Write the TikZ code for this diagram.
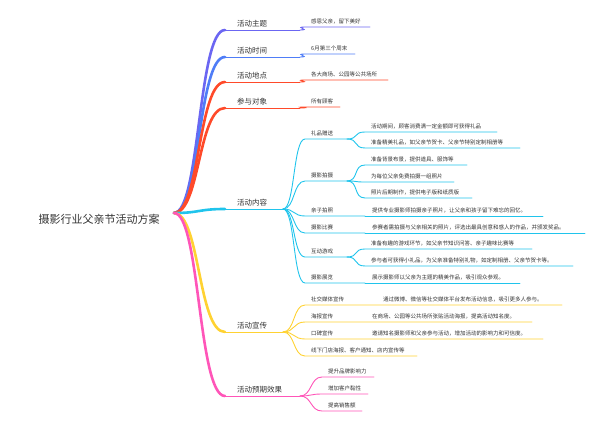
\documentclass[tikz,border=0pt]{standalone}
\usepackage{fontspec}
\setmainfont{Noto Sans CJK SC}
\usetikzlibrary{calc}
\begin{document}
\begin{tikzpicture}[x=1pt,y=-1pt,
  lone/.style={font=\fontsize{7.5}{8}\selectfont,text=black!80,inner sep=0pt,anchor=base west},
  ltwo/.style={font=\fontsize{5.5}{6}\selectfont,text=black!80,inner sep=0pt,anchor=base west},
  thick1/.style={line width=2.6pt,line cap=round},
  thin1/.style={line width=0.9pt,line cap=round}]
\useasboundingbox (0,0) rectangle (600,427);
\definecolor{cA}{HTML}{6B66F2}\definecolor{cB}{HTML}{4F7DF7}
\definecolor{cC}{HTML}{FF4A2A}\definecolor{cD}{HTML}{FF4A2A}
\definecolor{cE}{HTML}{20C4EC}\definecolor{cF}{HTML}{FFD232}
\definecolor{cG}{HTML}{FF55B8}
\node[font=\fontsize{11}{12}\selectfont,text=black!80,inner sep=0pt] (root) at (99,219) {摄影行业父亲节活动方案};
\coordinate (R) at (174,213);
% level1: #1 name, #2 color, #3 y line, #4 x end, #5 text
\newcommand\Lone[5]{%
  \coordinate (#1s) at (225,#3); \coordinate (#1e) at (#4,#3);
  \draw[#2,thick1] (R) .. controls (200,213) and (198,#3) .. (#1s);
  \draw[#2,thin1] (#1s) -- (#1e);
  \node[lone] (#1) at (237,#3-3) {#5};}
% leaf from parent line end: #1 name, #2 color, #3 from coord, #4 x start, #5 y, #6 x end, #7 text
\newcommand\Leaf[7]{%
  \coordinate (#1s) at (#4,#5); \coordinate (#1e) at (#6,#5);
  \draw[#2,thin1] (#3) .. controls ($(#3)+(12,0)$) and ($(#1s)+(-12,0)$) .. (#1s) -- (#1e);
  \node[ltwo] (#1) at (#4+6,#5-3) {#7};}
\Lone{a}{cA}{30}{300}{活动主题}
\Leaf{a1}{cA}{ae}{305}{27}{370}{感恩父亲，留下美好}
\Lone{b}{cB}{57}{300}{活动时间}
\Leaf{b1}{cB}{be}{305}{54}{355}{6月第三个周末}
\Lone{c}{cC}{82}{300}{活动地点}
\Leaf{c1}{cC}{ce}{305}{80}{388}{各大商场、公园等公共场所}
\Lone{d}{cD}{108}{300}{参与对象}
\Leaf{d1}{cD}{de}{305}{107}{340}{所有顾客}
\Lone{e}{cE}{209}{283}{活动内容}
\Lone{f}{cF}{332}{283}{活动宣传}
\Lone{g}{cG}{396}{300}{活动预期效果}
% 内容
\Leaf{e1}{cE}{ee}{305}{139}{347}{礼品赠送}
\Leaf{e11}{cE}{e1e}{365}{132}{497}{活动期间，顾客消费满一定金额即可获得礼品}
\Leaf{e12}{cE}{e1e}{365}{148}{520}{准备精美礼品，如父亲节贺卡、父亲节特别定制相册等}
\Leaf{e2}{cE}{ee}{305}{181}{347}{摄影拍摄}
\Leaf{e21}{cE}{e2e}{365}{165}{467}{准备背景布景，提供道具、服饰等}
\Leaf{e22}{cE}{e2e}{365}{182}{454}{为每位父亲免费拍摄一组照片}
\Leaf{e23}{cE}{e2e}{365}{198}{472}{照片后期制作，提供电子版和纸质版}
\Leaf{e3}{cE}{ee}{305}{216}{365}{亲子拍照}
\draw[cE,thin1] (e3e) -- (543,216); \node[ltwo] (e31) at (372,213) {提供专业摄影师拍摄亲子照片，让父亲和孩子留下难忘的回忆。};
\Leaf{e4}{cE}{ee}{305}{233}{365}{摄影比赛}
\draw[cE,thin1] (e4e) -- (585,233); \node[ltwo] (e41) at (372,230) {参赛者需拍摄与父亲相关的照片，评选出最具创意和感人的作品，并颁发奖品。};
\Leaf{e5}{cE}{ee}{305}{257}{347}{互动游戏}
\Leaf{e51}{cE}{e5e}{365}{249}{532}{准备有趣的游戏环节，如父亲节知识问答、亲子趣味比赛等}
\Leaf{e52}{cE}{e5e}{365}{266}{573}{参与者可获得小礼品，为父亲准备特别礼物，如定制相册、父亲节贺卡等。}
\Leaf{e6}{cE}{ee}{305}{283}{365}{摄影展览}
\draw[cE,thin1] (e6e) -- (520,283); \node[ltwo] (e61) at (372,280) {展示摄影师以父亲为主题的精美作品，吸引观众参观。};
% 宣传
\Leaf{f1}{cF}{fe}{305}{305}{562}{社交媒体宣传}
\node[ltwo] (f11) at (383,302) {通过微博、微信等社交媒体平台发布活动信息，吸引更多人参与。};
\Leaf{f2}{cF}{fe}{305}{322}{532}{海报宣传}
\node[ltwo] (f21) at (372,319) {在商场、公园等公共场所张贴活动海报，提高活动知名度。};
\Leaf{f3}{cF}{fe}{305}{339}{543}{口碑宣传}
\node[ltwo] (f31) at (372,336) {邀请知名摄影师和父亲参与活动，增加活动的影响力和可信度。};
\Leaf{f4}{cF}{fe}{305}{356}{417}{线下门店海报、客户通知、店内宣传等}
% 预期效果
\Leaf{g1}{cG}{ge}{322}{377}{374}{提升品牌影响力}
\Leaf{g2}{cG}{ge}{322}{394}{368}{增加客户黏性}
\Leaf{g3}{cG}{ge}{322}{411}{362}{提高销售额}
\end{tikzpicture}
\end{document}
